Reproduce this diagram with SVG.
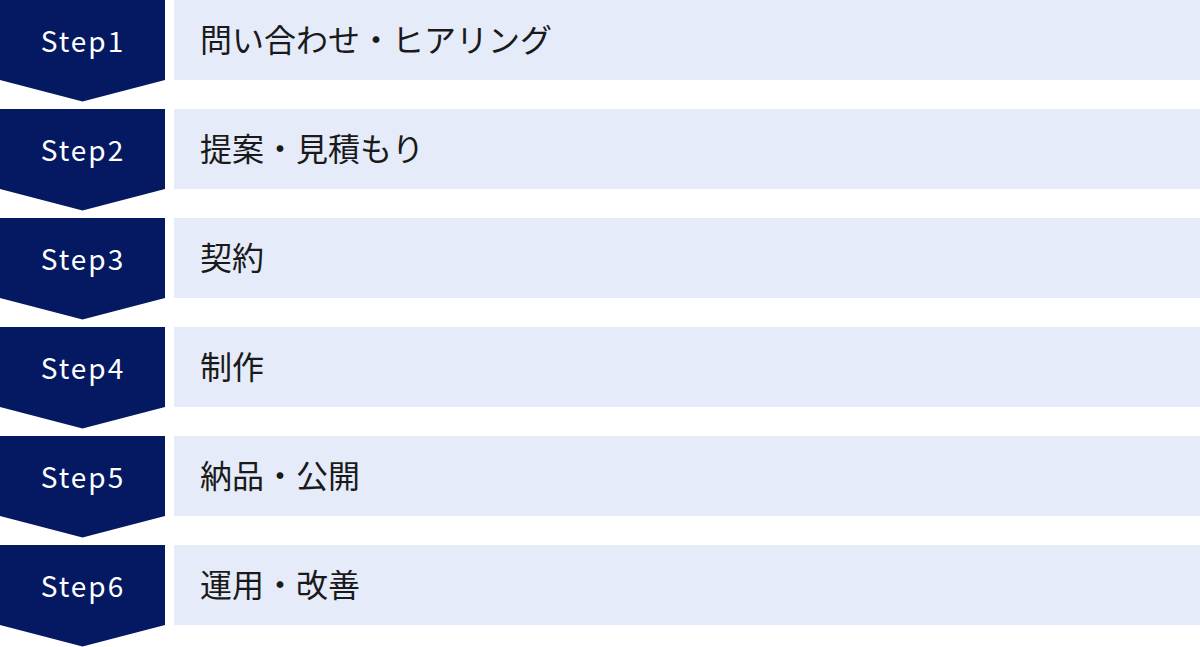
<svg xmlns="http://www.w3.org/2000/svg" width="1200" height="647" viewBox="0 0 1200 647">
  <defs>
    <style>
      .badge { fill: #041961; }
      .bar { fill: #E5EBF8; }
      .step { font-family: "Noto Sans CJK JP", "Noto Sans", sans-serif; font-size: 28px; font-weight: 400; fill: #ffffff; letter-spacing: 2px; text-anchor: middle; }
      .label { font-family: "Noto Sans CJK JP", "Noto Sans", sans-serif; font-size: 32px; fill: #1a1a1a; }
    </style>
    <path id="chev" d="M0,0 H165 V80 L82.5,101.5 L0,80 Z"/>
  </defs>
  <rect width="1200" height="647" fill="#ffffff"/>
  <g id="step1" transform="translate(0,0)">
    <use href="#chev" class="badge"/>
    <rect class="bar" x="174" y="0" width="1026" height="80"/>
    <text class="step" x="83" y="52">Step1</text>
    <text class="label" x="200" y="52">問い合わせ・ヒアリング</text>
  </g>
  <g id="step2" transform="translate(0,109)">
    <use href="#chev" class="badge"/>
    <rect class="bar" x="174" y="0" width="1026" height="80"/>
    <text class="step" x="83" y="52">Step2</text>
    <text class="label" x="200" y="52">提案・見積もり</text>
  </g>
  <g id="step3" transform="translate(0,218)">
    <use href="#chev" class="badge"/>
    <rect class="bar" x="174" y="0" width="1026" height="80"/>
    <text class="step" x="83" y="52">Step3</text>
    <text class="label" x="200" y="52">契約</text>
  </g>
  <g id="step4" transform="translate(0,327)">
    <use href="#chev" class="badge"/>
    <rect class="bar" x="174" y="0" width="1026" height="80"/>
    <text class="step" x="83" y="52">Step4</text>
    <text class="label" x="200" y="52">制作</text>
  </g>
  <g id="step5" transform="translate(0,436)">
    <use href="#chev" class="badge"/>
    <rect class="bar" x="174" y="0" width="1026" height="80"/>
    <text class="step" x="83" y="52">Step5</text>
    <text class="label" x="200" y="52">納品・公開</text>
  </g>
  <g id="step6" transform="translate(0,545)">
    <use href="#chev" class="badge"/>
    <rect class="bar" x="174" y="0" width="1026" height="80"/>
    <text class="step" x="83" y="52">Step6</text>
    <text class="label" x="200" y="52">運用・改善</text>
  </g>
  <g id="connectors"></g>
</svg>
